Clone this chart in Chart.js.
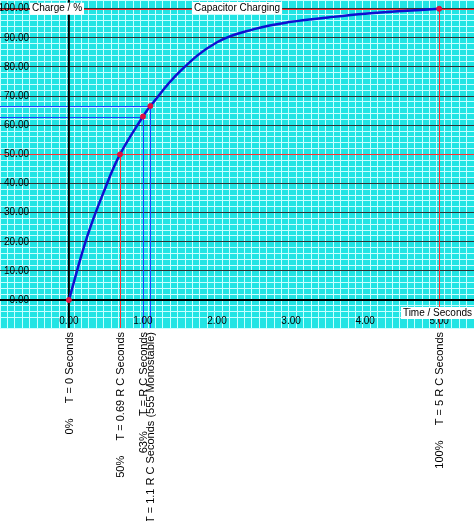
<!DOCTYPE html>
<html><head><meta charset="utf-8">
<script src="https://cdn.jsdelivr.net/npm/chart.js@4"></script>
<style>html,body{margin:0;padding:0;background:#fff}#w{width:474px;height:521px}</style>
</head><body><div id="w"><canvas id="c"></canvas></div>
<script>
const timeValues = [0, 0.25, 0.5, 0.69, 1, 1.1, 1.5, 2, 2.5, 3, 3.5, 4, 4.5, 5];
const chargeValues = [0, 22, 39, 50, 63, 66.6, 78.5, 88.5, 93, 95.5, 97, 98.3, 99.2, 100];
const markerTimes = [0, 0.69, 1, 1.1, 5];
const markerCharges = [0, 50, 63, 66.6, 100];
const markerLabels = ["0%     T = 0 Seconds", "50%     T = 0.69 R C Seconds", "63%     T = R C Seconds", "66.6%   T = 1.1 R C Seconds (555 Monostable)", "100%     T = 5 R C Seconds"];
const markerColors = ["red", "red", "blue", "blue", "red"];
const xTickLabels = ["0.00", "1.00", "2.00", "3.00", "4.00", "5.00"];
const yTickLabels = ["0.00","10.00","20.00","30.00","40.00","50.00","60.00","70.00","80.00","90.00","100.00"];

const near = (v, s) => Math.abs(v / s - Math.round(v / s)) < 1e-6;
const deco = {
  id: 'deco',
  beforeDraw(ch) {
    const {ctx, chartArea: a} = ch;
    ctx.save(); ctx.fillStyle = '#22e4e4';
    ctx.fillRect(a.left, a.top, a.right - a.left, a.bottom - a.top); ctx.restore();
  },
  beforeDatasetsDraw(ch) {
    const {ctx, scales: {x, y}, chartArea: a} = ch;
    ctx.save(); ctx.lineWidth = 1;
    ctx.strokeStyle = '#ff3030';
    [100, 50].forEach(v => { const py = Math.round(y.getPixelForValue(v)) + .5; ctx.beginPath(); ctx.moveTo(a.left, py); ctx.lineTo(a.right, py); ctx.stroke(); });
    markerTimes.forEach((t, i) => {
      if (i === 0) return;
      ctx.strokeStyle = markerColors[i] === 'red' ? '#ff3030' : '#2040ff';
      const px = Math.round(x.getPixelForValue(t)) + .5;
      ctx.beginPath(); ctx.moveTo(px, y.getPixelForValue(markerCharges[i])); ctx.lineTo(px, a.bottom); ctx.stroke();
      if (markerColors[i] === 'blue') {
        const py = Math.round(y.getPixelForValue(markerCharges[i])) + .5;
        ctx.beginPath(); ctx.moveTo(a.left, py); ctx.lineTo(px, py); ctx.stroke();
      }
    });
    ctx.strokeStyle = '#000'; ctx.lineWidth = 2;
    const x0 = x.getPixelForValue(0), y0 = y.getPixelForValue(0);
    ctx.beginPath(); ctx.moveTo(x0, a.top); ctx.lineTo(x0, a.bottom); ctx.stroke();
    ctx.beginPath(); ctx.moveTo(a.left, y0); ctx.lineTo(a.right, y0); ctx.stroke();
    ctx.restore();
  },
  afterDraw(ch) {
    const {ctx, scales: {x, y}, chartArea: a} = ch;
    ctx.save(); ctx.font = '10px "Liberation Sans", Arial'; ctx.fillStyle = '#000';
    ctx.textAlign = 'right'; ctx.textBaseline = 'middle';
    yTickLabels.forEach((l, i) => ctx.fillText(l, 29, y.getPixelForValue(i * 10)));
    ctx.textAlign = 'center';
    xTickLabels.forEach((l, i) => ctx.fillText(l, x.getPixelForValue(i), y.getPixelForValue(0) + 21));
    const box = (t, px, py, align) => {
      const w = ctx.measureText(t).width + 4;
      const lx = align === 'left' ? px : align === 'right' ? px - w : px - w / 2;
      ctx.fillStyle = '#fff'; ctx.fillRect(lx, py - 6, w, 12);
      ctx.fillStyle = '#000'; ctx.textAlign = 'left'; ctx.fillText(t, lx + 2, py);
    };
    box('Charge / %', 30, y.getPixelForValue(100), 'left');
    box('Capacitor Charging', 237, 8, 'center');
    box('Time / Seconds', 474, 313, 'right');
    ctx.font = '11px "Liberation Sans", Arial';
    markerTimes.forEach((t, i) => {
      ctx.save(); ctx.translate(x.getPixelForValue(t) + 1, a.bottom + 4); ctx.rotate(-Math.PI / 2);
      ctx.textAlign = 'right'; ctx.textBaseline = 'middle'; ctx.fillStyle = '#000';
      ctx.fillText(markerLabels[i].replace(/ {2,}/g, '\u00a0\u00a0\u00a0\u00a0\u00a0'), 0, 0); ctx.restore();
    });
    ctx.restore();
  }
};

new Chart(document.getElementById('c'), {
  type: 'scatter',
  data: { datasets: [
    { data: markerTimes.map((t, i) => ({x: t, y: markerCharges[i]})), showLine: false, pointRadius: 2.5, pointBackgroundColor: '#e01040', pointBorderColor: '#e01040' },
    { data: timeValues.map((t, i) => ({x: t, y: chargeValues[i]})), showLine: true, borderColor: '#1010d0', borderWidth: 2.5, pointRadius: 0, tension: 0.4 }
  ]},
  options: {
    responsive: true, maintainAspectRatio: false, animation: false,
    layout: { autoPadding: false, padding: { left: 0, right: 0, top: 0, bottom: 193 } },
    plugins: { legend: { display: false }, tooltip: { enabled: false } },
    scales: {
      x: { type: 'linear', min: -0.93, max: 5.47, afterFit: s => { s.height = 0; }, ticks: { display: false, padding: 0, stepSize: 0.1, autoSkip: false }, border: { display: false },
        grid: { drawTicks: false, color: c => near(c.tick.value, 1) ? '#333' : '#c8ffff', lineWidth: 1 } },
      y: { type: 'linear', min: -9.6, max: 103, afterFit: s => { s.width = 0; }, ticks: { display: false, padding: 0, stepSize: 2, autoSkip: false }, border: { display: false },
        grid: { drawTicks: false, color: c => near(c.tick.value, 10) ? '#333' : '#c8ffff', lineWidth: 1 } }
    }
  },
  plugins: [deco]
});
</script></body></html>
